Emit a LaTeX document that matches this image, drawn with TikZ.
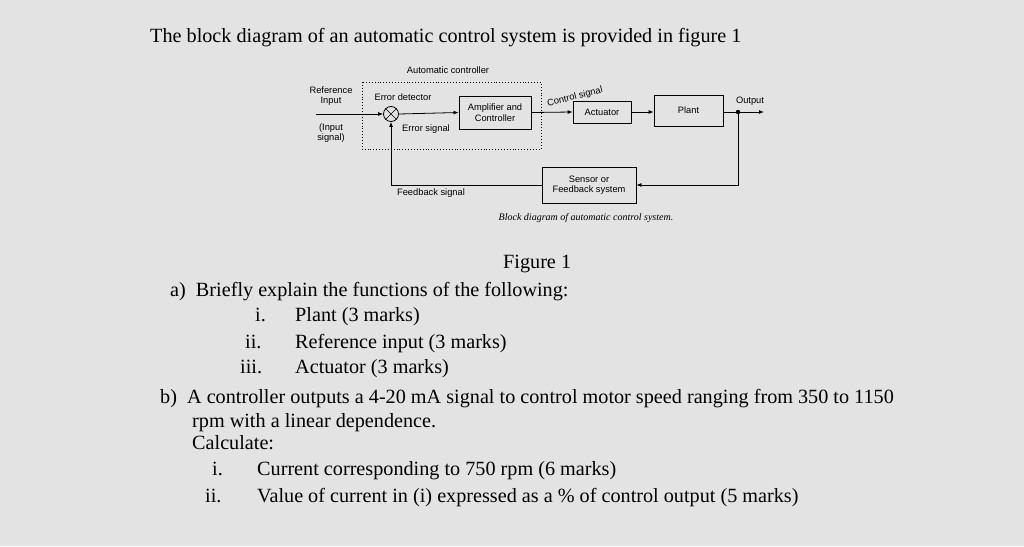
\documentclass[tikz,border=0pt]{standalone}
\usepackage{fontspec}
\setmainfont{Liberation Serif}
\setsansfont{Liberation Sans}
\usetikzlibrary{arrows.meta}
\begin{document}
\begin{tikzpicture}[x=1pt,y=-1pt,
  blk/.style={draw,line width=0.8pt,font=\sffamily\fontsize{9.3}{10.5}\selectfont,align=center,inner sep=0pt},
  lbl/.style={font=\sffamily\fontsize{9.3}{10.5}\selectfont,align=center,inner sep=0pt},
  arr/.style={line width=0.8pt,-{Latex[length=5pt,width=4pt]}},
  body/.style={font=\fontsize{20.2}{22}\selectfont,anchor=base west,inner sep=0pt}]
\useasboundingbox (0,0) rectangle (1024,546);
\fill[gray!22] (0,0) rectangle (1024,546);
% diagram
\draw[dotted,line width=0.9pt] (362,82) rectangle (541,149);
\node[lbl] (ac) at (448,70) {Automatic controller};
\node[draw,circle,line width=0.8pt,minimum size=15pt,inner sep=0pt] (sum) at (391,114) {};
\draw[line width=0.6pt] (sum.north west) -- (sum.south east) (sum.north east) -- (sum.south west);
\node[blk,minimum width=72pt,minimum height=33pt] (amp) at (495,112.5) {Amplifier and\\Controller};
\node[blk,minimum width=58pt,minimum height=22pt] (act) at (602,112) {Actuator};
\node[blk,minimum width=69pt,minimum height=31pt] (plant) at (688.5,110.5) {Plant};
\node[blk,minimum width=94pt,minimum height=36pt] (sens) at (589,185) {Sensor or\\Feedback system};
\coordinate (in) at (316,114);
\fill (738,112) circle (2.2pt);
\coordinate (dot) at (738,112);
\coordinate (out) at (764,112);
\draw[arr] (in) -- (sum.west);
\draw[arr] (sum.east) -- (amp.west);
\draw[arr] (amp.east) -- (act.west);
\draw[arr] (act.east) -- (plant.west |- act.east);
\draw[arr] (plant.east |- dot) -- (out);
\draw[arr] (dot) |- (sens.east);
\draw[arr] (sens.west) -| (sum.south);
\node[lbl] at (331,96) {Reference\\Input};
\node[lbl] at (331,133) {(Input\\signal)};
\node[lbl] at (403,97) {Error detector};
\node[lbl] at (426,129) {Error signal};
\node[lbl,rotate=14] at (575,97) {Control signal};
\node[lbl] at (750,101) {Output};
\node[lbl] at (431,193) {Feedback signal};
\node[font=\itshape\fontsize{10}{11}\selectfont,inner sep=0pt] at (586,218) {Block diagram of automatic control system.};
% text
\node[body] at (150,42) {The block diagram of an automatic control system is provided in figure 1};
\node[body] at (503,268) {Figure 1};
\node[body] at (170,296) {a)\ \ Briefly explain the functions of the following:};
\node[body] at (255,321) {i.};
\node[body] at (295,321) {Plant (3 marks)};
\node[body] at (245,348) {ii.};
\node[body] at (295,348) {Reference input (3 marks)};
\node[body] at (240,373) {iii.};
\node[body] at (295,373) {Actuator (3 marks)};
\node[body] at (160,403) {b)\ \ A controller outputs a 4-20 mA signal to control motor speed ranging from 350 to 1150};
\node[body] at (192,427) {rpm with a linear dependence.};
\node[body] at (192,449) {Calculate:};
\node[body] at (212,475) {i.};
\node[body] at (257,475) {Current corresponding to 750 rpm (6 marks)};
\node[body] at (205,502) {ii.};
\node[body] at (257,502) {Value of current in (i) expressed as a \% of control output (5 marks)};
\end{tikzpicture}
\end{document}
